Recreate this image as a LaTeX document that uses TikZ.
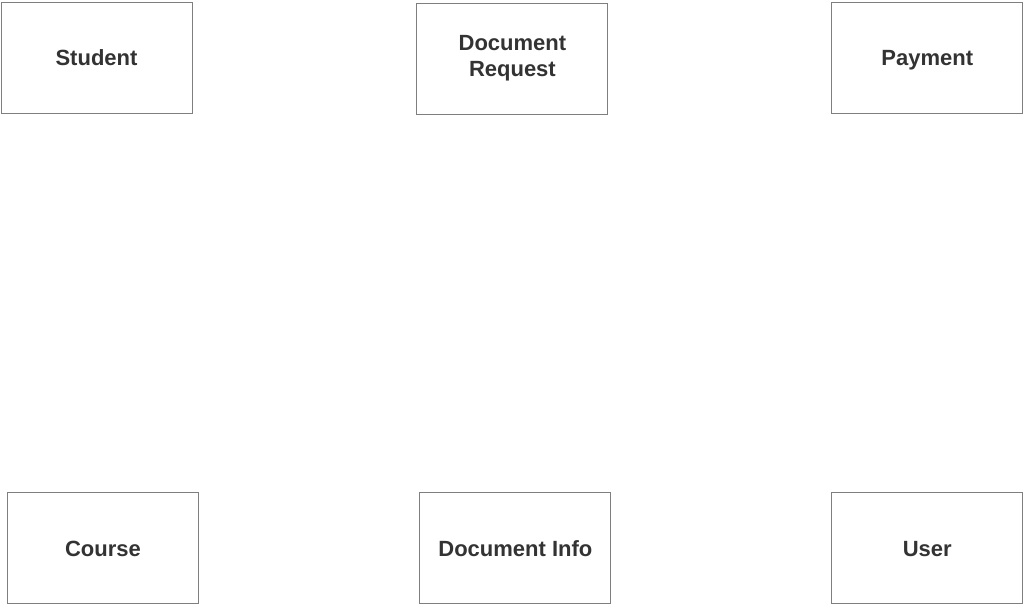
\documentclass[tikz,border=0pt]{standalone}
\usepackage{fontspec}
\setmainfont{Liberation Sans}
\usetikzlibrary{positioning}
\definecolor{boxline}{HTML}{7F7F7F}
\definecolor{boxtext}{HTML}{333333}
\newcommand{\entitytop}{\rule{0pt}{21pt}}
\newcommand{\entitybot}{\rule{0pt}{0pt}\vrule width 0pt height 0pt depth 5pt}
\begin{document}
\begin{tikzpicture}[x=1pt,y=-1pt]
\tikzstyle{entity}=[rectangle, draw=boxline, line width=0.9pt, minimum width=191pt, minimum height=111pt, inner sep=0pt, align=center, text=boxtext, font=\fontsize{22}{26}\selectfont\bfseries, execute at begin node={\entitytop}, execute at end node={\entitybot}]
\useasboundingbox (0,0) rectangle (1024,605);

%% Top row
  \node[entity] (student) at (96.5,57.5) {Student};
  \node[entity] (docrequest) [right=224pt of student, yshift=-1pt] {Document\\Request};
  \node[entity] (payment) [right=223pt of docrequest, yshift=1pt] {Payment};

%% Bottom row
  \node[entity] (course) [below=379pt of student, xshift=6.5pt] {Course};
  \node[entity] (docinfo) [below=378pt of docrequest, xshift=3pt] {Document Info};
  \node[entity] (user) [below=379pt of payment] {User};
\end{tikzpicture}
\end{document}
